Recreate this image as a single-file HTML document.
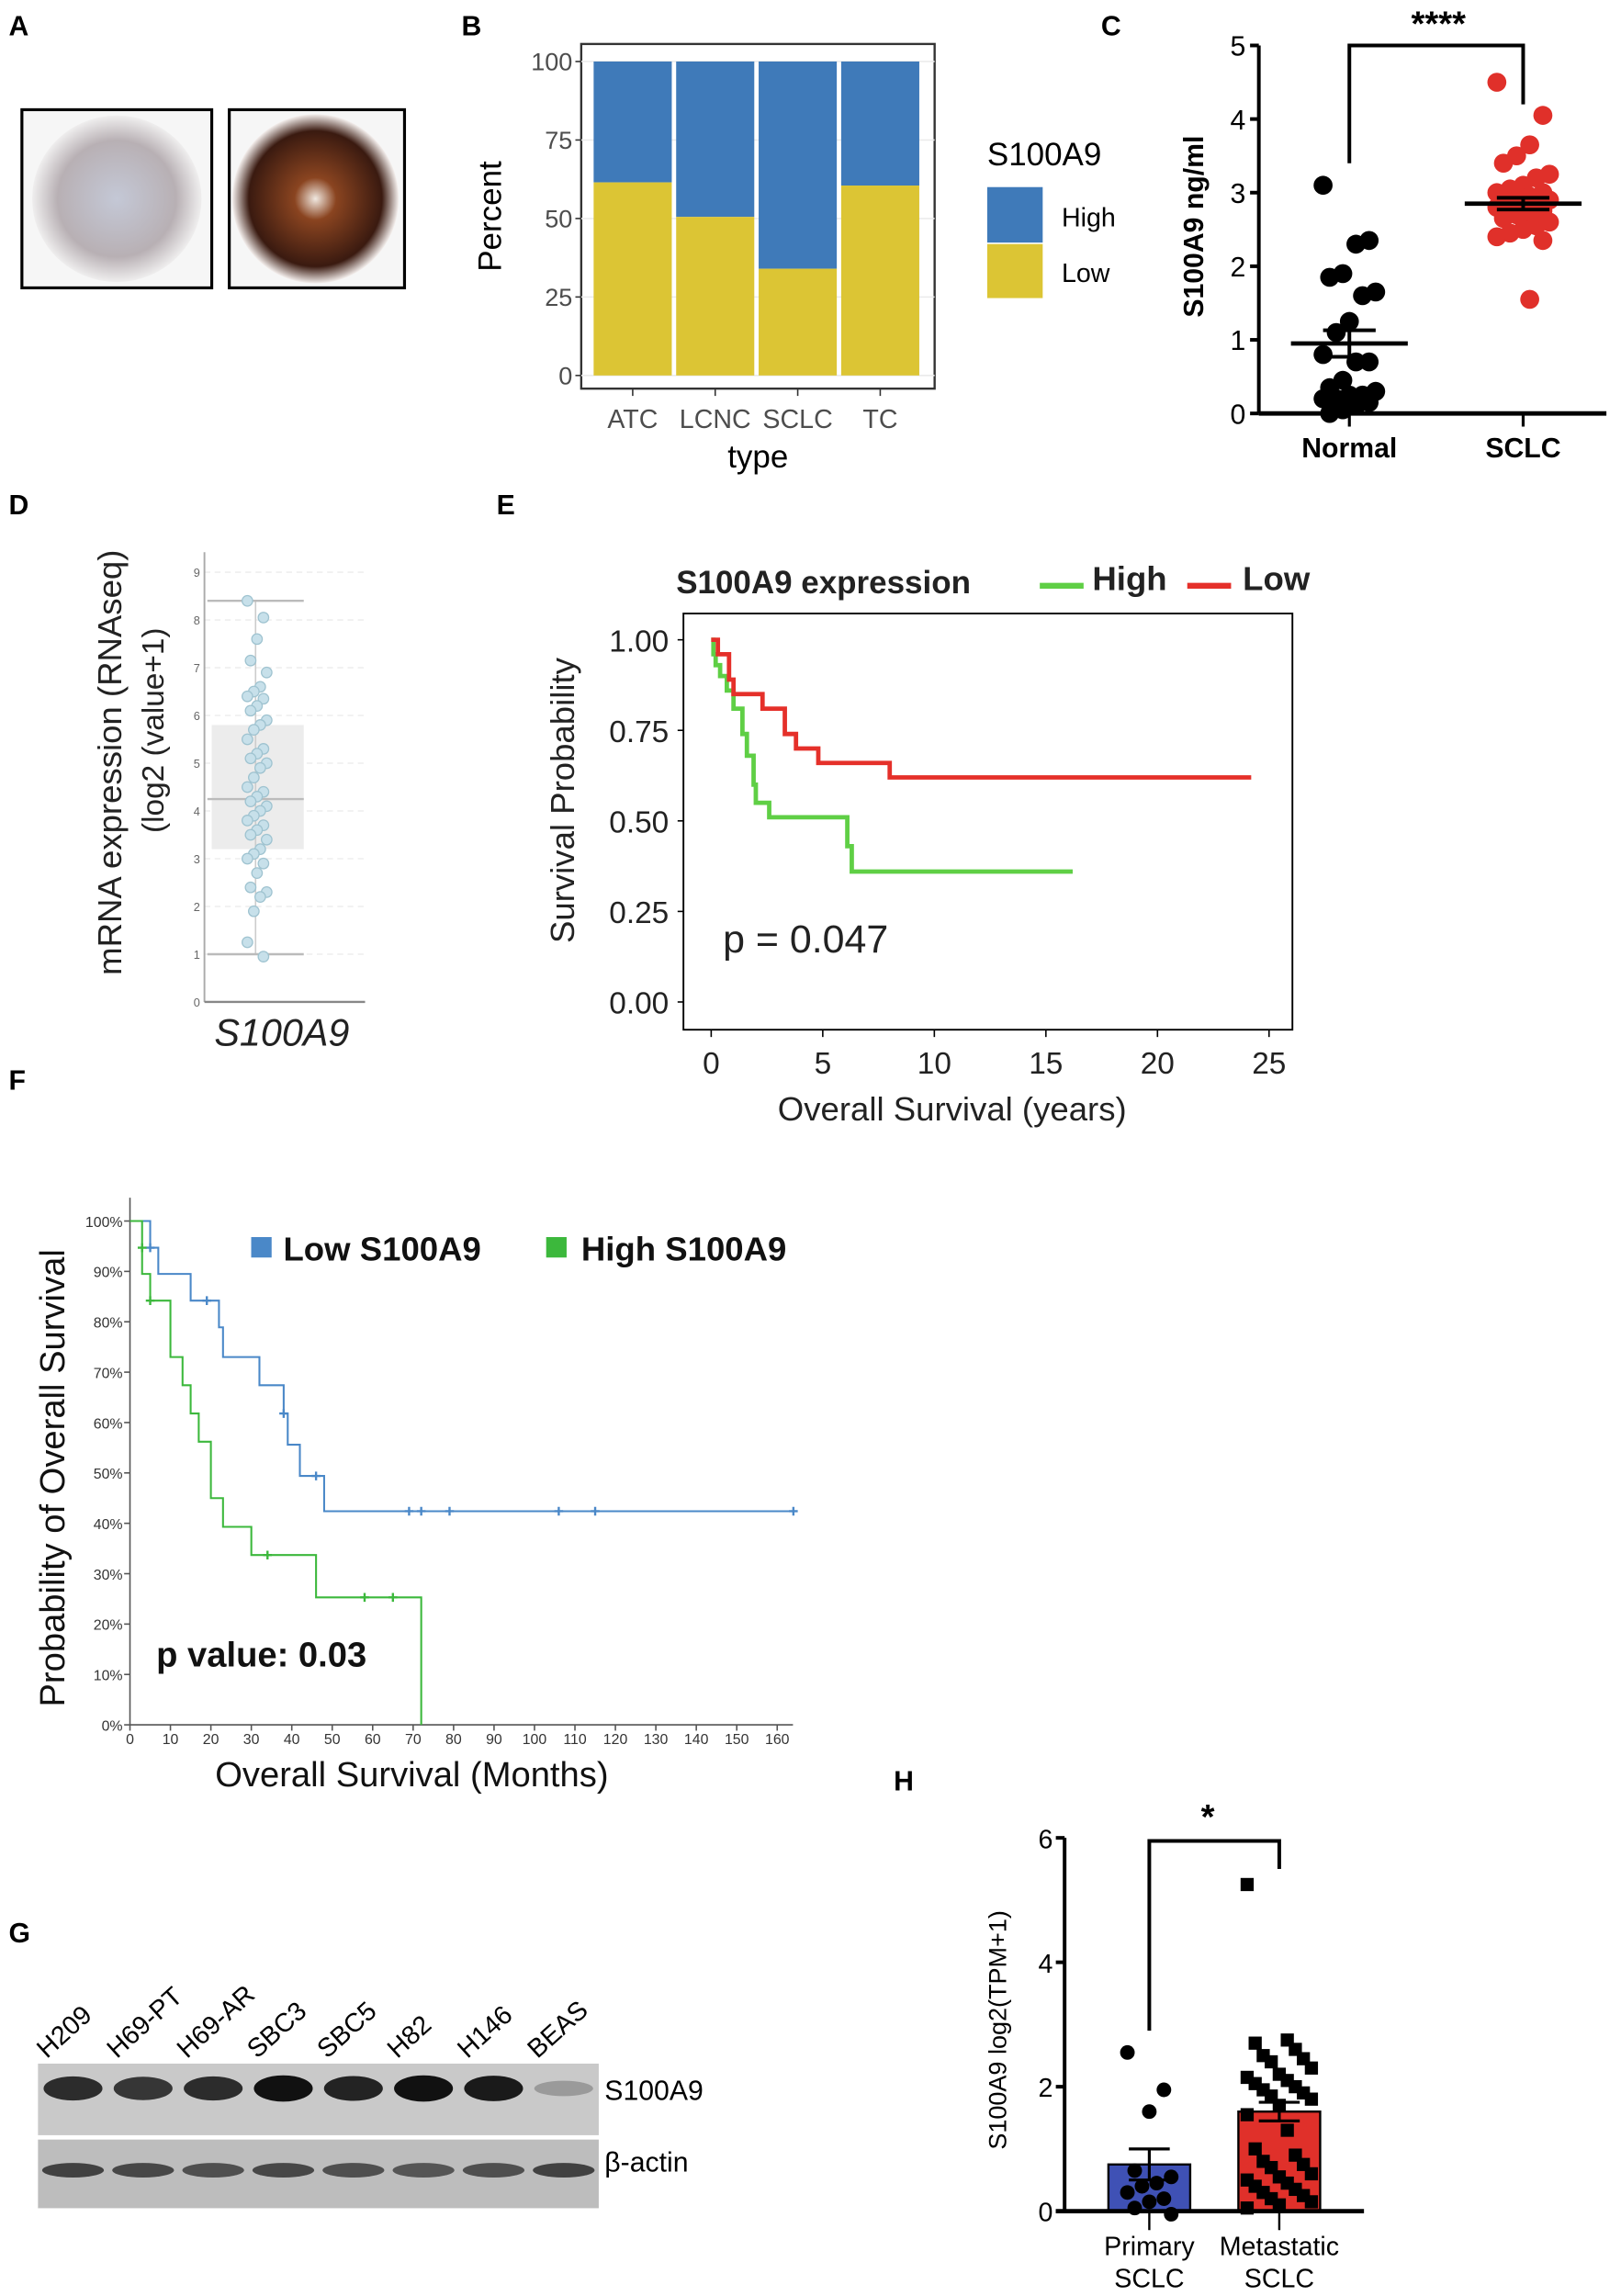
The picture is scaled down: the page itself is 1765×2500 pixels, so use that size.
<!DOCTYPE html>
<html><head><meta charset="utf-8"><title>S100A9 figure</title>
<style>
html,body{margin:0;padding:0;background:#fff;}
svg{display:block;font-family:"Liberation Sans",Arial,sans-serif;}
</style></head>
<body>
<svg id="fig" width="1765" height="2500" viewBox="0 0 1110 1572" xmlns="http://www.w3.org/2000/svg">
<defs>
<radialGradient id="tissueL" cx="50%" cy="50%" r="50%"><stop offset="0%" stop-color="#c4c8d6"/><stop offset="70%" stop-color="#b8b0b4"/><stop offset="100%" stop-color="#efeeee"/></radialGradient>
<radialGradient id="tissueR" cx="50%" cy="50%" r="50%"><stop offset="0%" stop-color="#f0e8e0"/><stop offset="25%" stop-color="#8a4420"/><stop offset="80%" stop-color="#3a1a10"/><stop offset="100%" stop-color="#f5f0ee"/></radialGradient>
</defs>
<g font-weight="bold" font-size="19" fill="#000">
<text x="6" y="24">A</text>
<text x="316" y="24">B</text>
<text x="754" y="24">C</text>
<text x="6" y="352">D</text>
<text x="340" y="352">E</text>
<text x="6" y="746">F</text>
<text x="6" y="1330">G</text>
<text x="612" y="1226">H</text>
</g>
<!-- Panel A -->
<g>
<rect x="15" y="75" width="130" height="122" fill="#f6f6f6" stroke="#000" stroke-width="2"/>
<ellipse cx="80" cy="136" rx="58" ry="57" fill="url(#tissueL)"/>
<rect x="157" y="75" width="120" height="122" fill="#f6f6f6" stroke="#000" stroke-width="2"/>
<ellipse cx="216" cy="136" rx="57" ry="58" fill="url(#tissueR)"/>
</g>
<g id="gB"></g>
<g id="gC"></g>
<g id="gD"></g>
<g id="gE"></g>
<g id="gF"></g>
<g id="gG"></g>
<g id="gH"></g>
</svg>
<script>
// ---------- DATA ----------
var bCategories = ["ATC","LCNC","SCLC","TC"];
var bLowPercent = [61.5, 50.5, 34, 60.5];
var bTicks = [0,25,50,75,100];

var cNormal = [3.1,2.35,2.3,1.9,1.85,1.65,1.6,1.25,1.1,0.8,0.7,0.7,0.45,0.35,0.3,0.25,0.25,0.2,0.2,0.15,0.1,0.05,0.0];
var cSCLC = [4.5,4.05,3.65,3.5,3.4,3.25,3.2,3.1,3.05,3.0,3.0,2.95,2.9,2.9,2.9,2.85,2.85,2.8,2.8,2.75,2.7,2.7,2.65,2.6,2.55,2.5,2.45,2.4,2.35,1.55];
var cMeans = [0.95, 2.85];
var cSEM = [0.18, 0.08];
var cTicks = [0,1,2,3,4,5];

var dValues = [8.4,8.05,7.6,7.15,6.9,6.6,6.5,6.4,6.35,6.2,6.1,5.9,5.8,5.7,5.5,5.3,5.2,5.1,5.0,4.9,4.7,4.5,4.4,4.3,4.2,4.1,4.0,3.9,3.8,3.7,3.6,3.5,3.4,3.2,3.1,3.0,2.9,2.7,2.4,2.3,2.2,1.9,1.25,0.95];
var dBox = [1.0, 3.2, 4.25, 5.8, 8.4]; // min,q1,median,q3,max
var dTicks = [0,1,2,3,4,5,6,7,8,9];

var eLowTimes = [0,0.3,0.8,1.0,2.3,3.3,3.8,4.8,8.0,24.2];
var eLowSurv  = [1,0.96,0.89,0.85,0.81,0.74,0.70,0.66,0.62,0.62];
var eHighTimes = [0,0.1,0.2,0.4,0.7,1.0,1.4,1.6,1.9,2.0,2.6,6.1,6.3,16.2];
var eHighSurv  = [1,0.96,0.93,0.90,0.86,0.81,0.74,0.68,0.60,0.55,0.51,0.43,0.36,0.36];
var eYTicks = [0,0.25,0.5,0.75,1.0];
var eXTicks = [0,5,10,15,20,25];

var fLowTimes = [0,5,7,15,22,23,32,38,39,42,48,164];
var fLowSurv  = [1,0.947,0.895,0.842,0.789,0.73,0.674,0.618,0.556,0.494,0.424,0.424];
var fLowCensorT = [5,19,38,46,69,72,79,106,115,164];
var fLowCensorS = [0.947,0.842,0.618,0.494,0.424,0.424,0.424,0.424,0.424,0.424];
var fHighTimes = [0,3,5,10,13,15,17,20,23,30,46,72,72];
var fHighSurv  = [1,0.895,0.842,0.73,0.674,0.618,0.562,0.45,0.393,0.337,0.253,0,0];
var fHighCensorT = [3,5,34,58,65];
var fHighCensorS = [0.947,0.842,0.337,0.253,0.253];
var fYTicks = [0,10,20,30,40,50,60,70,80,90,100];
var fXTicks = [0,10,20,30,40,50,60,70,80,90,100,110,120,130,140,150,160];

var gLanes = ["H209","H69-PT","H69-AR","SBC3","SBC5","H82","H146","BEAS"];
var gS100Intensity = [0.85,0.8,0.85,1.0,0.9,1.0,0.95,0.25];
var gActinIntensity = [0.9,0.85,0.8,0.85,0.8,0.75,0.8,0.9];

var hCategories = ["Primary","Metastatic"];
var hMeans = [0.75, 1.6];
var hSEM = [0.25, 0.15];
var hPrimary = [2.55,1.95,1.6,0.65,0.55,0.45,0.4,0.3,0.2,0.15,0.05,-0.05];
var hMetastatic = [5.25,2.75,2.7,2.6,2.5,2.45,2.4,2.3,2.2,2.15,2.1,2.05,2.0,1.95,1.9,1.85,1.8,1.7,1.55,1.3,1.0,0.9,0.8,0.75,0.7,0.6,0.55,0.5,0.45,0.4,0.35,0.3,0.25,0.2,0.15,0.1,0.05];
var hTicks = [0,2,4,6];

// ---------- HELPERS ----------
var NS = "http://www.w3.org/2000/svg";
function mk(parent, tag, attrs, txt){
  var e = document.createElementNS(NS, tag);
  for (var k in attrs) e.setAttribute(k, attrs[k]);
  if (txt !== undefined) e.textContent = txt;
  parent.appendChild(e);
  return e;
}
function stepPath(times, surv, xs, ys){
  var d = "M" + xs(times[0]) + "," + ys(surv[0]);
  for (var i=1;i<times.length;i++){
    d += " H" + xs(times[i]) + " V" + ys(surv[i]);
  }
  return d;
}
var el;

// ---------- PANEL B ----------
(function(){
  var g = document.getElementById("gB");
  var x0=398, x1=640, yTop=30, yBot=266;
  var ys = function(v){ return 257 - v*(257-42)/100; };
  el = mk(g,"rect",{x:x0,y:yTop,width:x1-x0,height:yBot-yTop,fill:"#fff",stroke:"#333","stroke-width":1.5});
  
  
  bTicks.forEach(function(t){
    el = mk(g,"line",{x1:x0,x2:x1,y1:ys(t),y2:ys(t),stroke:"#ebebeb","stroke-width":1});
    
    
    el = mk(g,"text",{x:392,y:ys(t)+6,"text-anchor":"end","font-size":17,fill:"#4d4d4d"},String(t));
    
    
    el = mk(g,"line",{x1:394,x2:398,y1:ys(t),y2:ys(t),stroke:"#333"});
    
    
  });
  var bw = (x1-x0-16)/bCategories.length;
  bCategories.forEach(function(c,i){
    var bx = x0+7+i*bw+1.5, w = bw-3, cx = bx+w/2;
    el = mk(g,"rect",{x:bx,y:ys(100),width:w,height:ys(bLowPercent[i])-ys(100),fill:"#3f7ab9"});
    
    
    el = mk(g,"rect",{x:bx,y:ys(bLowPercent[i]),width:w,height:ys(0)-ys(bLowPercent[i]),fill:"#dcc534"});
    
    
    el = mk(g,"line",{x1:cx,x2:cx,y1:266,y2:271,stroke:"#333"});
    
    
    el = mk(g,"text",{x:cx,y:293,"text-anchor":"middle","font-size":18,fill:"#4d4d4d"},c);
    
    
  });
  el = mk(g,"text",{x:519,y:320,"text-anchor":"middle","font-size":22,fill:"#000"},"type");
  
  
  el = mk(g,"text",{x:0,y:0,"text-anchor":"middle","font-size":22,fill:"#000",transform:"translate(343,148) rotate(-90)"},"Percent");
  
  
  el = mk(g,"text",{x:676,y:113,"font-size":22,fill:"#000"},"S100A9");
  
  
  el = mk(g,"rect",{x:676,y:128,width:38,height:38,fill:"#3f7ab9"});
  
  
  el = mk(g,"rect",{x:676,y:167,width:38,height:37,fill:"#dcc534"});
  
  
  el = mk(g,"text",{x:727,y:155,"font-size":18,fill:"#000"},"High");
  
  
  el = mk(g,"text",{x:727,y:193,"font-size":18,fill:"#000"},"Low");
  
  
})();

// ---------- PANEL C ----------
(function(){
  var g = document.getElementById("gC");
  var ax = 862;
  var ys = function(v){ return 283 - v*50.4; };
  var xs = [924, 1043];
  el = mk(g,"line",{x1:ax,x2:ax,y1:ys(5),y2:ys(0),stroke:"#000","stroke-width":2.5});
  
  
  el = mk(g,"line",{x1:ax,x2:1100,y1:ys(0),y2:ys(0),stroke:"#000","stroke-width":3});
  
  
  cTicks.forEach(function(t){
    el = mk(g,"line",{x1:ax-6,x2:ax,y1:ys(t),y2:ys(t),stroke:"#000","stroke-width":2.5});
    
    
    el = mk(g,"text",{x:ax-9,y:ys(t)+7,"text-anchor":"end","font-size":19,fill:"#000"},String(t));
    
    
  });
  ["Normal","SCLC"].forEach(function(c,i){
    el = mk(g,"line",{x1:xs[i],x2:xs[i],y1:ys(0),y2:ys(0)+9,stroke:"#000","stroke-width":2});
    
    
    el = mk(g,"text",{x:xs[i],y:313,"text-anchor":"middle","font-size":19,"font-weight":"bold",fill:"#000"},c);
    
    
  });
  el = mk(g,"text",{x:0,y:0,"text-anchor":"middle","font-size":19,"font-weight":"bold",fill:"#000",transform:"translate(824,155) rotate(-90)"},"S100A9 ng/ml");
  
  
  el = mk(g,"path",{d:"M"+xs[0]+","+ys(3.4)+" V"+ys(5.0)+" H"+xs[1]+" V"+ys(4.2),fill:"none",stroke:"#000","stroke-width":2.5});
  
  
  el = mk(g,"text",{x:985,y:24,"text-anchor":"middle","font-size":24,"font-weight":"bold",fill:"#000"},"****");
  
  
  [cNormal,cSCLC].forEach(function(arr,gi){
    var col = gi===0 ? "#000" : "#e0302a";
    arr.forEach(function(v,i){
      var off = ((i*7)%9 - 4)*4.5;
      el = mk(g,"circle",{cx:xs[gi]+off,cy:ys(v),r:6.5,fill:col});
      
      
    });
    el = mk(g,"line",{x1:xs[gi]-40,x2:xs[gi]+40,y1:ys(cMeans[gi]),y2:ys(cMeans[gi]),stroke:"#000","stroke-width":3});
    
    
    el = mk(g,"path",{d:"M"+(xs[gi]-18)+","+ys(cMeans[gi]+cSEM[gi])+" H"+(xs[gi]+18)+" M"+(xs[gi]-18)+","+ys(cMeans[gi]-cSEM[gi])+" H"+(xs[gi]+18)+" M"+xs[gi]+","+ys(cMeans[gi]+cSEM[gi])+" V"+ys(cMeans[gi]-cSEM[gi]),stroke:"#000","stroke-width":2.5,fill:"none"});
    
    
  });
})();

// ---------- PANEL D ----------
(function(){
  var g = document.getElementById("gD");
  var ax = 140;
  var ys = function(v){ return 686 - v*32.7; };
  dTicks.forEach(function(t){
    el = mk(g,"line",{x1:ax,x2:250,y1:ys(t),y2:ys(t),stroke:"#eeeeee","stroke-dasharray":"4,3"});
    
    
    el = mk(g,"text",{x:ax-3,y:ys(t)+3,"text-anchor":"end","font-size":8,fill:"#666"},String(t));
    
    
  });
  el = mk(g,"line",{x1:ax,x2:ax,y1:378,y2:686,stroke:"#aaa","stroke-width":1.2});
  
  
  el = mk(g,"line",{x1:ax,x2:250,y1:686,y2:686,stroke:"#888","stroke-width":1.5});
  
  
  el = mk(g,"rect",{x:145,y:ys(dBox[3]),width:63,height:ys(dBox[1])-ys(dBox[3]),fill:"#ececec"});
  
  
  el = mk(g,"line",{x1:175,x2:175,y1:ys(dBox[4]),y2:ys(dBox[0]),stroke:"#ccc","stroke-width":1});
  
  
  [0,2,4].forEach(function(k){
    el = mk(g,"line",{x1:142,x2:208,y1:ys(dBox[k]),y2:ys(dBox[k]),stroke:"#bbb","stroke-width":1.5});
    
    
  });
  dValues.forEach(function(v,i){
    var off = ((i*5)%7 - 3)*2.2;
    el = mk(g,"circle",{cx:176+off,cy:ys(v),r:3.6,fill:"#c7e0ea",stroke:"#9fc3d0","stroke-width":0.8});
    
    
  });
  el = mk(g,"text",{x:193,y:716,"text-anchor":"middle","font-size":26,"font-style":"italic",fill:"#222"},"S100A9");
  
  
  el = mk(g,"text",{x:0,y:0,"text-anchor":"middle","font-size":23,fill:"#222",transform:"translate(83,522) rotate(-90)"},"mRNA expression (RNAseq)");
  
  
  el = mk(g,"text",{x:0,y:0,"text-anchor":"middle","font-size":21,fill:"#222",transform:"translate(112,500) rotate(-90)"},"(log2 (value+1)");
  
  
})();

// ---------- PANEL E ----------
(function(){
  var g = document.getElementById("gE");
  var xs = function(t){ return 487 + t*15.28; };
  var ys = function(s){ return 686 - s*248; };
  el = mk(g,"rect",{x:468,y:420,width:417,height:285,fill:"#fff",stroke:"#000","stroke-width":1.2});
  
  
  eYTicks.forEach(function(t){
    el = mk(g,"line",{x1:464,x2:468,y1:ys(t),y2:ys(t),stroke:"#000"});
    
    
    el = mk(g,"text",{x:458,y:ys(t)+8,"text-anchor":"end","font-size":21,fill:"#222"},t.toFixed(2));
    
    
  });
  eXTicks.forEach(function(t){
    el = mk(g,"line",{x1:xs(t),x2:xs(t),y1:705,y2:710,stroke:"#000"});
    
    
    el = mk(g,"text",{x:xs(t),y:735,"text-anchor":"middle","font-size":21,fill:"#222"},String(t));
    
    
  });
  el = mk(g,"path",{d:stepPath(eHighTimes,eHighSurv,xs,ys),fill:"none",stroke:"#5fcf45","stroke-width":3});
  
  
  el = mk(g,"path",{d:stepPath(eLowTimes,eLowSurv,xs,ys),fill:"none",stroke:"#e5302a","stroke-width":3});
  
  
  el = mk(g,"text",{x:652,y:767,"text-anchor":"middle","font-size":23,fill:"#222"},"Overall Survival (years)");
  
  
  el = mk(g,"text",{x:0,y:0,"text-anchor":"middle","font-size":23,fill:"#222",transform:"translate(393,548) rotate(-90)"},"Survival Probability");
  
  
  el = mk(g,"text",{x:463,y:406,"font-size":22,"font-weight":"bold",fill:"#222"},"S100A9 expression");
  
  
  el = mk(g,"line",{x1:712,x2:742,y1:401,y2:401,stroke:"#5fcf45","stroke-width":4});
  
  
  el = mk(g,"text",{x:748,y:404,"font-size":23,"font-weight":"bold",fill:"#222"},"High");
  
  
  el = mk(g,"line",{x1:813,x2:843,y1:401,y2:401,stroke:"#e5302a","stroke-width":4});
  
  
  el = mk(g,"text",{x:851,y:404,"font-size":23,"font-weight":"bold",fill:"#222"},"Low");
  
  
  el = mk(g,"text",{x:495,y:652,"font-size":27,fill:"#222"},"p = 0.047");
  
  
})();

// ---------- PANEL F ----------
(function(){
  var g = document.getElementById("gF");
  var xs = function(t){ return 89 + t*2.77; };
  var ys = function(s){ return 1181 - s*345; };
  el = mk(g,"line",{x1:89,x2:89,y1:820,y2:1181,stroke:"#555","stroke-width":1});
  
  
  el = mk(g,"line",{x1:89,x2:543,y1:1181,y2:1181,stroke:"#555","stroke-width":1});
  
  
  fYTicks.forEach(function(t){
    el = mk(g,"line",{x1:85,x2:89,y1:ys(t/100),y2:ys(t/100),stroke:"#555"});
    
    
    el = mk(g,"text",{x:84,y:ys(t/100)+4,"text-anchor":"end","font-size":10,fill:"#333"},t+"%");
    
    
  });
  fXTicks.forEach(function(t){
    el = mk(g,"line",{x1:xs(t),x2:xs(t),y1:1181,y2:1185,stroke:"#555"});
    
    
    el = mk(g,"text",{x:xs(t),y:1194,"text-anchor":"middle","font-size":10,fill:"#333"},String(t));
    
    
  });
  el = mk(g,"path",{d:stepPath(fLowTimes,fLowSurv,xs,ys),fill:"none",stroke:"#4a88c8","stroke-width":1.3});
  
  
  el = mk(g,"path",{d:stepPath(fHighTimes,fHighSurv,xs,ys),fill:"none",stroke:"#3cb83c","stroke-width":1.3});
  
  
  fLowCensorT.forEach(function(t,i){
    var x=xs(t), y=ys(fLowCensorS[i]);
    el = mk(g,"path",{d:"M"+(x-3)+","+y+" H"+(x+3)+" M"+x+","+(y-3)+" V"+(y+3),stroke:"#4a88c8","stroke-width":1.5});
    
    
  });
  fHighCensorT.forEach(function(t,i){
    var x=xs(t), y=ys(fHighCensorS[i]);
    el = mk(g,"path",{d:"M"+(x-3)+","+y+" H"+(x+3)+" M"+x+","+(y-3)+" V"+(y+3),stroke:"#3cb83c","stroke-width":1.5});
    
    
  });
  el = mk(g,"rect",{x:172,y:847,width:14,height:14,fill:"#4a88c8"});
  
  
  el = mk(g,"text",{x:194,y:863,"font-size":23,"font-weight":"bold",fill:"#111"},"Low S100A9");
  
  
  el = mk(g,"rect",{x:374,y:847,width:14,height:14,fill:"#3cb83c"});
  
  
  el = mk(g,"text",{x:398,y:863,"font-size":23,"font-weight":"bold",fill:"#111"},"High S100A9");
  
  
  el = mk(g,"text",{x:107,y:1141,"font-size":24,"font-weight":"bold",fill:"#111"},"p value: 0.03");
  
  
  el = mk(g,"text",{x:282,y:1223,"text-anchor":"middle","font-size":24,fill:"#111"},"Overall Survival (Months)");
  
  
  el = mk(g,"text",{x:0,y:0,"text-anchor":"middle","font-size":24,fill:"#111",transform:"translate(44,1012) rotate(-90)"},"Probability of Overall Survival");
  
  
})();

// ---------- PANEL G ----------
(function(){
  var g = document.getElementById("gG");
  el = mk(g,"rect",{x:26,y:1413,width:384,height:49,fill:"#c9c9c9"});
  
  
  el = mk(g,"rect",{x:26,y:1465,width:384,height:47,fill:"#bdbdbd"});
  
  
  var lw = 384/gLanes.length;
  gLanes.forEach(function(n,i){
    var cx = 26 + lw*(i+0.5);
    var a = gS100Intensity[i];
    el = mk(g,"ellipse",{cx:cx,cy:1430,rx:lw*0.42,ry:4+a*5,fill:"#111","fill-opacity":a});
    
    
    var b = gActinIntensity[i];
    el = mk(g,"ellipse",{cx:cx,cy:1486,rx:lw*0.44,ry:5,fill:"#333","fill-opacity":b});
    
    
    el = mk(g,"text",{x:0,y:0,"font-size":18,fill:"#000",transform:"translate("+(cx-18)+",1410) rotate(-42)"},n);
    
    
  });
  el = mk(g,"text",{x:414,y:1438,"font-size":19,fill:"#000"},"S100A9");
  
  
  el = mk(g,"text",{x:414,y:1487,"font-size":19,fill:"#000"},"β-actin");
  
  
})();

// ---------- PANEL H ----------
(function(){
  var g = document.getElementById("gH");
  var ax = 729;
  var ys = function(v){ return 1514 - v*42.6; };
  var xs = [787, 876];
  var cols = ["#3f51b5","#e0302a"];
  hCategories.forEach(function(c,i){
    el = mk(g,"rect",{x:xs[i]-28,y:ys(hMeans[i]),width:56,height:ys(0)-ys(hMeans[i]),fill:cols[i],stroke:"#000","stroke-width":1.5});
    
    
    el = mk(g,"path",{d:"M"+xs[i]+","+ys(hMeans[i]-hSEM[i])+" V"+ys(hMeans[i]+hSEM[i])+" M"+(xs[i]-14)+","+ys(hMeans[i]+hSEM[i])+" H"+(xs[i]+14)+" M"+(xs[i]-14)+","+ys(hMeans[i]-hSEM[i])+" H"+(xs[i]+14),stroke:"#000","stroke-width":2,fill:"none"});
    
    
    el = mk(g,"line",{x1:xs[i],x2:xs[i],y1:ys(0),y2:ys(0)+13,stroke:"#000","stroke-width":1.5});
    
    
  });
  hPrimary.forEach(function(v,i){
    var off = ((i*5)%7 - 3)*5;
    el = mk(g,"circle",{cx:xs[0]+off,cy:ys(v),r:5,fill:"#000"});
    
    
  });
  hMetastatic.forEach(function(v,i){
    var off = ((i*5)%9 - 4)*5.5;
    el = mk(g,"rect",{x:xs[1]+off-4.5,y:ys(v)-4.5,width:9,height:9,fill:"#000"});
    
    
  });
  el = mk(g,"line",{x1:ax,x2:ax,y1:ys(6),y2:ys(0),stroke:"#000","stroke-width":2.5});
  
  
  el = mk(g,"line",{x1:ax-6,x2:934,y1:ys(0),y2:ys(0),stroke:"#000","stroke-width":3});
  
  
  hTicks.forEach(function(t){
    el = mk(g,"line",{x1:ax-6,x2:ax,y1:ys(t),y2:ys(t),stroke:"#000","stroke-width":2.5});
    
    
    el = mk(g,"text",{x:ax-8,y:ys(t)+7,"text-anchor":"end","font-size":18,fill:"#000"},String(t));
    
    
  });
  el = mk(g,"path",{d:"M"+xs[0]+","+ys(2.9)+" V"+ys(5.95)+" H"+xs[1]+" V"+ys(5.5),fill:"none",stroke:"#000","stroke-width":2.5});
  
  
  el = mk(g,"text",{x:827,y:1252,"text-anchor":"middle","font-size":24,"font-weight":"bold",fill:"#000"},"*");
  
  
  el = mk(g,"text",{x:0,y:0,"text-anchor":"middle","font-size":17,fill:"#000",transform:"translate(689,1390) rotate(-90)"},"S100A9 log2(TPM+1)");
  
  
  var l1 = ["Primary","Metastatic"];
  l1.forEach(function(c,i){
    el = mk(g,"text",{x:xs[i],y:1544,"text-anchor":"middle","font-size":18,fill:"#000"},c);
    
    
    el = mk(g,"text",{x:xs[i],y:1566,"text-anchor":"middle","font-size":18,fill:"#000"},"SCLC");
    
    
  });
})();
</script>
</body></html>
